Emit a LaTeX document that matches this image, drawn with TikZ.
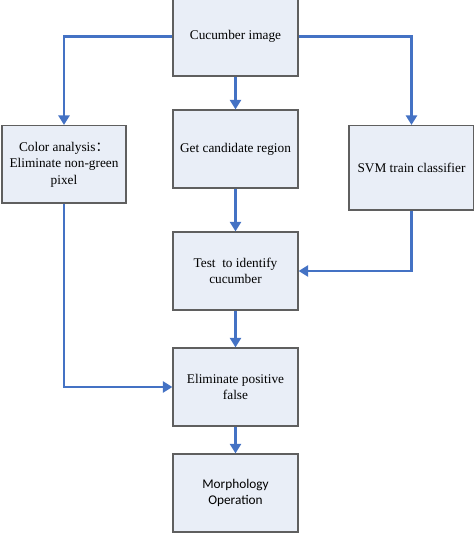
\documentclass[tikz,border=0pt]{standalone}
\usepackage{fontspec}
\setmainfont{Liberation Serif}
\newfontfamily\calib{Carlito}
\newfontfamily\cjk{Noto Sans CJK SC}
\usetikzlibrary{arrows.meta}
\definecolor{boxfill}{RGB}{233,238,247}
\definecolor{boxline}{RGB}{95,95,95}
\definecolor{arrblue}{RGB}{68,114,196}
\tikzset{
  box/.style={draw=boxline, line width=1.2pt, fill=boxfill, align=center,
    font=\rmfamily\fontsize{13.3}{16.5}\selectfont, inner sep=0pt,
    minimum width=125pt, minimum height=78pt},
  arr/.style={draw=arrblue, line width=2.6pt,
    -{Triangle[width=11pt,length=9.5pt]}}
}
\begin{document}
\begin{tikzpicture}[x=1pt,y=-1pt]
\useasboundingbox (0,0) rectangle (474,533);
\node[box, minimum height=79pt] (cuc) at (235.5,36.5) {Cucumber image};
\node[box, minimum width=124pt, minimum height=77.5pt] (color) at (64,164.3) {Color analysis{\cjk ：}\\Eliminate non-green\\pixel};
\node[box] (cand) at (235.5,149) {Get candidate region};
\node[box, minimum height=84.5pt] (svm) at (411.5,167.8) {SVM train classifier};
\node[box] (test) at (235.5,271) {Test~ to identify\\cucumber};
\node[box] (elim) at (235.5,387) {Eliminate positive\\false};
\node[box, font=\calib\fontsize{13.3}{16.7}\selectfont] (morph) at (235.5,493) {Morphology\\Operation};
\draw[arr] (cuc.west) -| (color.north);
\draw[arr] (cuc.east) -| (svm.north);
\draw[arr] (cuc.south) -- (cand.north);
\draw[arr] (cand.south) -- (test.north);
\draw[arr] (svm.south) |- (test.east);
\draw[arr] (test.south) -- (elim.north);
\draw[arr] (color.south) |- (elim.west);
\draw[arr] (elim.south) -- (morph.north);
\end{tikzpicture}
\end{document}
